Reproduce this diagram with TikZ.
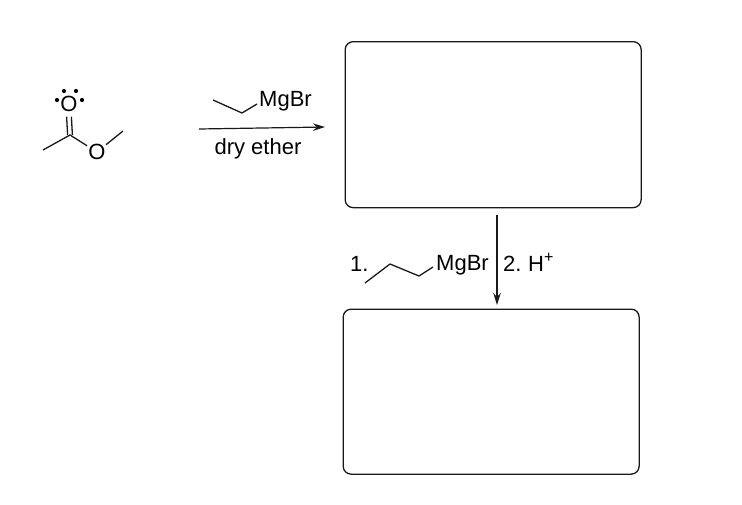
\documentclass[tikz,border=0pt]{standalone}
\usepackage{fontspec}
\setmainfont{Liberation Sans}
\usetikzlibrary{arrows.meta}
\tikzset{
  bond/.style={line width=1.3pt,black!90},
  rxarrow/.style={line width=1.2pt,black!90,-{Stealth[length=12pt,width=7.5pt]}},
  answerbox/.style={draw=black!90,line width=1.3pt,rounded corners=8pt,minimum width=296pt,anchor=north west,inner sep=0pt},
  lbl/.style={font=\fontsize{22pt}{24pt}\selectfont,inner sep=0pt,text=black},
  atom/.style={lbl,circle,minimum size=16pt},
  lp/.style={circle,fill=black,inner sep=0pt,minimum size=4.2pt}
}
\begin{document}
\begin{tikzpicture}[x=1pt,y=-1pt]
\useasboundingbox (0,0) rectangle (742,504);
% answer boxes
\node[answerbox,minimum height=166pt] (boxA) at (344.5,41) {};
\node[answerbox,minimum height=165pt] (boxB) at (342.5,308.5) {};
% ester
\node[atom] (O1) at (69,104) {O};
\node[atom] (O2) at (97,152) {O};
\coordinate (C1) at (70,135);
\coordinate (Me1) at (43,150);
\coordinate (Me2) at (123,131);
\draw[bond] ([xshift=-2.4pt]C1) -- ([xshift=-2.4pt,yshift=-1pt]O1.south);
\draw[bond] ([xshift=2.4pt]C1) -- ([xshift=2.4pt,yshift=-1pt]O1.south);
\draw[bond] (Me1) -- (C1) -- (O2);
\draw[bond] (O2) -- (Me2);
\node[lp] (d1) at (64,91) {};
\node[lp] (d2) at (76,91) {};
\node[lp] (d3) at (57,100) {};
\node[lp] (d4) at (82,100) {};
% first reagent
\node[lbl,anchor=base west] (mg1) at (259,106) {MgBr};
\node[lbl,anchor=base] (ether) at (258,154) {dry ether};
\coordinate (e1) at (213,100);
\coordinate (e2) at (242,113);
\coordinate (e3) at (257,104);
\draw[bond] (e1) -- (e2) -- (e3);
\coordinate (a1s) at (199,129);
\coordinate (a1e) at (325,127);
\draw[rxarrow] (a1s) -- (a1e);
% second step
\coordinate (a2s) at (497,215);
\coordinate (a2e) at (497,305);
\draw[rxarrow] (a2s) -- (a2e);
\node[lbl,anchor=base west] (one) at (350,271) {1.};
\node[lbl,anchor=base west] (mg2) at (436,270) {MgBr};
\node[lbl,anchor=base west] (two) at (503,271) {2.\hspace{-1.5pt} H\raisebox{9pt}{\fontsize{16pt}{16pt}\selectfont +}};
\coordinate (p1) at (365,283);
\coordinate (p2) at (390,264);
\coordinate (p3) at (419,276);
\coordinate (p4) at (433,267);
\draw[bond] (p1) -- (p2) -- (p3) -- (p4);
\end{tikzpicture}
\end{document}
